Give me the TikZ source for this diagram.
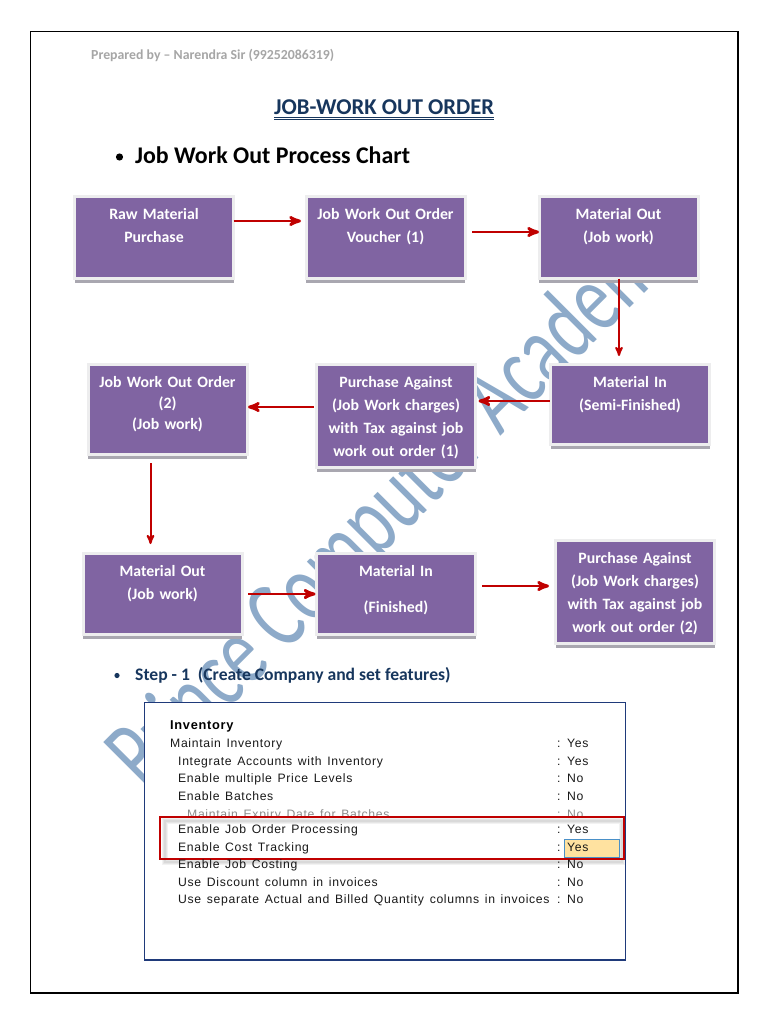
\documentclass[tikz,border=0pt]{standalone}
\usepackage{fontspec}
\setmainfont{Carlito}
\newfontfamily\tallyfont[LetterSpace=5.5,WordSpace=1.4]{Liberation Sans}
\usetikzlibrary{arrows,shadows}
\definecolor{boxpurple}{HTML}{8064A2}
\definecolor{boxframe}{HTML}{EDEDEE}
\definecolor{boxshadow}{HTML}{A9A7B0}
\definecolor{flowred}{HTML}{C00000}
\definecolor{titleblue}{HTML}{17365D}
\definecolor{waterblue}{HTML}{8DAAC9}
\definecolor{panelblue}{HTML}{1F3A7A}
\definecolor{cellfill}{HTML}{FFE2A0}
\definecolor{cellblue}{HTML}{4A90C8}

\begin{document}
\begin{tikzpicture}[x=1pt,y=-1pt,>=stealth',node distance=232pt,
  rec node/.style={rectangle,fill=boxpurple,draw=boxframe,line width=3pt,text=white,
    inner xsep=0pt,inner ysep=0pt,outer sep=0pt,text width=159pt,align=center,text height=22.5pt,
    font=\fontsize{15.8}{23}\selectfont\bfseries,
    general shadow={fill=boxshadow,shadow yshift=-4pt}},
  plain text/.style={inner sep=0pt,anchor=base west},
  row text/.style={plain text,font=\tallyfont\fontsize{12.2}{14}\selectfont,text=black!90},
  red line/.style={color=flowred,line width=2.8pt}]

  \useasboundingbox (0,0) rectangle (768,1024);
  \fill[white] (0,0) rectangle (768,1024);

  % watermark
  \node[text=waterblue,rotate=45,xscale=.71,inner sep=0pt,font=\fontsize{100}{100}\selectfont] (mark) at (398,502) {Prince Computer Academy};

  \draw[black,line width=1.5pt] (30.5,31.5) rectangle (738,993);

  \node[plain text,text=black!35,font=\fontsize{13.8}{16}\selectfont\bfseries] (prep) at (91,60) {Prepared by -- Narendra Sir (99252086319)};
  \node[plain text,text=titleblue,font=\fontsize{22.6}{24}\selectfont\bfseries] (title) at (274,115) {JOB-WORK OUT ORDER};
  \draw[titleblue,line width=.8pt] ([yshift=-2pt]title.base west) -- ([yshift=-2pt]title.base east);
  \draw[titleblue,line width=.8pt] ([yshift=-4pt]title.base west) -- ([yshift=-4pt]title.base east);
  \node[plain text,font=\fontsize{23.9}{26}\selectfont\bfseries] (head) at (135,164) {Job Work Out Process Chart};
  \fill (119.5,157) circle (3.6pt);

  % process chart
  \node[rec node] (raw) [text depth=59.5pt] at (154,237.5) {Raw Material\\Purchase};
  \node[rec node] (vou) [text depth=59.5pt,xshift=-.5pt,right of=raw] {Job Work Out Order\\Voucher (1)};
  \node[rec node] (mout) [text depth=59.5pt,xshift=1pt,right of=vou] {Material Out\\(Job work)};
  \node[rec node] (semi) [text depth=57.5pt,xshift=11.5pt,yshift=65pt,below of=mout] {Material In\\(Semi-Finished)};
  \node[rec node] (pur1) [text depth=80.5pt,xshift=-2pt,yshift=-11.5pt,left of=semi] {Purchase Against\\(Job Work charges)\\with Tax against job\\work out order (1)};
  \node[rec node] (jw2) [text depth=67.5pt,xshift=3.5pt,yshift=6.5pt,left of=pur1] {Job Work Out Order\\[-2pt](2)\\[-2pt](Job work)};
  \node[rec node] (mout2) [text depth=58.5pt,xshift=-5pt,yshift=47.5pt,below of=jw2] {Material Out\\(Job work)};
  \node[rec node] (fin) [text depth=58.5pt,xshift=1.5pt,right of=mout2] {Material In\\[13pt](Finished)};
  \node[rec node] (pur2) [text depth=80.5pt,xshift=7pt,yshift=2pt,right of=fin] {Purchase Against\\(Job Work charges)\\with Tax against job\\work out order (2)};

  \path[red line]
    ([yshift=16.5pt]raw.east) edge[->] ([xshift=-5pt,yshift=16.5pt]vou.west)
    ([xshift=7pt,yshift=5.5pt]vou.east) edge[->] ([yshift=5.5pt]mout.west)
    ([xshift=-1pt,yshift=3.5pt]semi.west) edge[->] ([xshift=3pt,yshift=15pt]pur1.east)
    ([xshift=-2.5pt,yshift=9pt]pur1.west) edge[->] ([xshift=1pt,yshift=2.5pt]jw2.east)
    ([xshift=6pt]mout2.east) edge[->] ([xshift=-1pt]fin.west)
    ([xshift=6.5pt,yshift=8pt]fin.east) edge[->] ([xshift=-6.5pt,yshift=6pt]pur2.west);
  \path[red line,line width=2pt]
    ([xshift=.5pt]mout.south) edge[->] ([xshift=.5pt,yshift=8.5pt]mout.south |- semi.north)
    ([xshift=-17pt,yshift=-8.5pt]jw2.south) edge[->] ([xshift=-12pt,yshift=9.5pt]mout2.north);

  \node[plain text,text=titleblue,font=\fontsize{17.6}{19}\selectfont\bfseries] (step) at (135,680) {Step - 1\ \ (Create Company and set features)};
  \fill[titleblue] (117,675.5) circle (2.6pt);

  % inventory panel
  \draw[fill=white,draw=panelblue,line width=1.5pt] (144.5,702.5) rectangle (625.5,960);
  \node[plain text,font=\tallyfont\fontsize{12.8}{14}\selectfont\bfseries] (inv) at (170,729) {Inventory};

  \foreach \name/\x/\y/\txt/\val/\tone in {
    r1/170/747.5/Maintain Inventory/Yes/90,
    r2/178/765/Integrate Accounts with Inventory/Yes/90,
    r3/178/782.5/Enable multiple Price Levels/No/90,
    r4/178/800/Enable Batches/No/90,
    r5/187/818/Maintain Expiry Date for Batches/No/45}
  {
    \node[row text,text=black!\tone] (\name) at (\x,\y) {\txt};
    \node[row text,text=black!\tone] (\name c) at (557,\y) {:};
    \node[row text,text=black!\tone] (\name v) at (567,\y) {\val};
  }

  % highlight
  \fill[white] (160,817) rectangle (624,859);
  \foreach \w in {1.5,3.5,5.5}
    \draw[black,opacity=.05,line width=\w pt] (165,821) rectangle (622,862);
  \fill[white] (172,826) rectangle (616,857);
  \node[rectangle,fill=cellfill,draw=cellblue,line width=.8pt,minimum width=55pt,minimum height=18pt,inner sep=0pt] (cell) at (591.5,848) {};
  \draw[flowred,line width=2pt] (160,817) rectangle (624,859);

  \foreach \name/\y/\txt/\val in {
    r6/833.5/Enable Job Order Processing/Yes,
    r7/851/Enable Cost Tracking/Yes,
    r8/868.5/Enable Job Costing/No,
    r9/886/Use Discount column in invoices/No,
    r10/903.5/Use separate Actual and Billed Quantity columns in invoices/No}
  {
    \node[row text] (\name) at (178,\y) {\txt};
    \node[row text] (\name c) at (557,\y) {:};
    \node[row text] (\name v) at (567,\y) {\val};
  }
\end{tikzpicture}
\end{document}
